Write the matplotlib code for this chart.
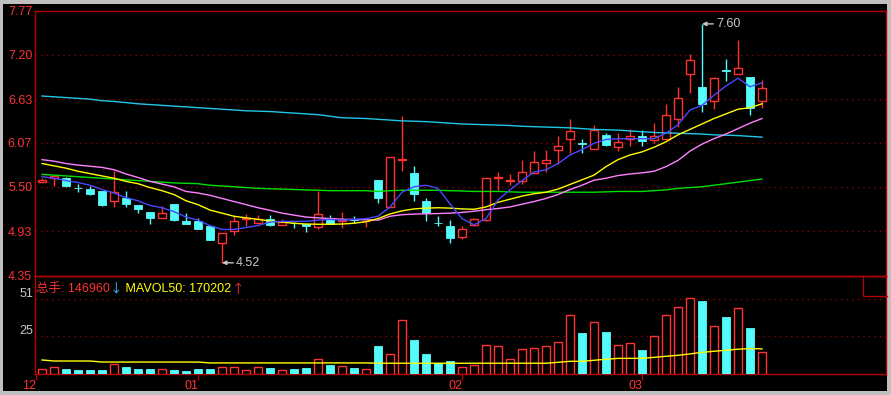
import matplotlib
matplotlib.use('Agg')
import matplotlib.pyplot as plt
from matplotlib.lines import Line2D
from matplotlib.patches import Rectangle
from matplotlib.transforms import offset_copy
import numpy as np

plt.rcParams['font.family'] = ['Liberation Sans', 'Noto Sans CJK SC', 'DejaVu Sans']

# ---------------- data ----------------
opens = [5.563, 5.615, 5.61, 5.49, 5.47, 5.447, 5.318, 5.36, 5.26, 5.17,
         5.10, 5.275, 5.06, 5.056, 4.995, 4.776, 4.927, 5.09, 5.034, 5.09,
         5.008, 5.035, 5.025, 4.98, 5.10, 5.065, 5.09, 5.055, 5.585, 5.24,
         5.845, 5.675, 5.318, 5.035, 5.0, 4.853, 5.013, 5.078, 5.61, 5.575,
         5.58, 5.68, 5.81, 5.98, 6.11, 6.065, 5.99, 6.166, 6.015, 6.115,
         6.16, 6.10, 6.118, 6.376, 6.96, 6.79, 6.61, 7.005, 6.95, 6.91, 6.60]
highs = [5.61, 5.64, 5.62, 5.53, 5.51, 5.45, 5.705, 5.44, 5.26, 5.175,
         5.25, 5.28, 5.16, 5.10, 4.995, 4.91, 5.12, 5.146, 5.14, 5.13,
         5.08, 5.05, 5.025, 5.44, 5.14, 5.18, 5.12, 5.065, 5.59, 5.88,
         6.41, 5.77, 5.36, 5.12, 5.07, 4.99, 5.10, 5.607, 5.69, 5.66,
         5.843, 5.96, 5.97, 6.15, 6.37, 6.11, 6.295, 6.195, 6.195, 6.25,
         6.23, 6.317, 6.565, 6.78, 7.215, 7.60, 6.92, 7.147, 7.39, 6.91, 6.875]
lows = [5.56, 5.51, 5.50, 5.43, 5.395, 5.25, 5.24, 5.24, 5.16, 5.017,
        5.10, 5.056, 5.017, 4.953, 4.82, 4.52, 4.88, 4.995, 5.034, 4.995,
        5.008, 4.97, 4.92, 4.956, 5.017, 4.97, 5.03, 4.98, 5.29, 5.24,
        5.70, 5.32, 5.065, 5.0, 4.776, 4.83, 5.0, 5.056, 5.455, 5.52,
        5.54, 5.68, 5.69, 5.80, 5.93, 5.94, 5.99, 6.02, 5.96, 6.03,
        6.02, 6.06, 6.118, 6.27, 6.71, 6.46, 6.50, 6.86, 6.95, 6.43, 6.52]
closes = [5.585, 5.637, 5.51, 5.485, 5.41, 5.26, 5.439, 5.275, 5.22, 5.095,
          5.16, 5.069, 5.017, 4.953, 4.82, 4.91, 5.056, 5.10, 5.09, 5.013,
          5.047, 5.03, 5.0, 5.155, 5.017, 5.075, 5.07, 5.062, 5.357, 5.88,
          5.855, 5.41, 5.163, 5.03, 4.84, 4.96, 5.09, 5.607, 5.62, 5.585,
          5.697, 5.817, 5.84, 6.02, 6.22, 6.055, 6.23, 6.045, 6.075, 6.16,
          6.09, 6.15, 6.43, 6.64, 7.13, 6.57, 6.90, 6.995, 7.03, 6.51, 6.77]

ma_blue = [5.63, 5.61, 5.58, 5.555, 5.52, 5.465, 5.42, 5.36, 5.32, 5.26,
           5.23, 5.18, 5.11, 5.07, 5.00, 4.95, 4.95, 4.975, 5.00, 5.045,
           5.055, 5.055, 5.055, 5.07, 5.08, 5.07, 5.08, 5.09, 5.12, 5.24,
           5.43, 5.50, 5.52, 5.48, 5.28, 5.09, 5.01, 5.09, 5.33, 5.46,
           5.58, 5.69, 5.72, 5.80, 5.91, 5.98, 6.06, 6.11, 6.12, 6.12,
           6.12, 6.12, 6.19, 6.30, 6.49, 6.55, 6.68, 6.80, 6.90, 6.79, 6.84]
ma_yellow = [5.80, 5.77, 5.74, 5.70, 5.67, 5.64, 5.61, 5.57, 5.54, 5.49,
             5.45, 5.40, 5.32, 5.27, 5.20, 5.16, 5.12, 5.10, 5.08, 5.06,
             5.045, 5.03, 5.02, 5.017, 5.017, 5.02, 5.03, 5.05, 5.09, 5.15,
             5.19, 5.215, 5.225, 5.23, 5.225, 5.215, 5.21, 5.24, 5.30, 5.34,
             5.38, 5.41, 5.43, 5.47, 5.53, 5.59, 5.65, 5.76, 5.85, 5.91,
             5.95, 6.01, 6.08, 6.17, 6.24, 6.31, 6.38, 6.44, 6.50, 6.52, 6.57]
ma_pink = [5.85, 5.83, 5.80, 5.78, 5.765, 5.75, 5.72, 5.665, 5.62, 5.57,
           5.535, 5.50, 5.44, 5.42, 5.39, 5.35, 5.31, 5.27, 5.23, 5.197,
           5.16, 5.135, 5.11, 5.10, 5.09, 5.082, 5.078, 5.075, 5.07, 5.12,
           5.14, 5.148, 5.152, 5.155, 5.16, 5.17, 5.185, 5.205, 5.22, 5.24,
           5.275, 5.31, 5.35, 5.40, 5.465, 5.52, 5.585, 5.61, 5.645, 5.665,
           5.68, 5.70, 5.76, 5.84, 5.96, 6.05, 6.12, 6.18, 6.25, 6.32, 6.38]
ma_green = [5.66, 5.65, 5.64, 5.63, 5.62, 5.61, 5.60, 5.59, 5.58, 5.57,
            5.56, 5.55, 5.545, 5.54, 5.52, 5.51, 5.50, 5.49, 5.48, 5.475,
            5.47, 5.465, 5.46, 5.455, 5.45, 5.45, 5.45, 5.45, 5.44, 5.45,
            5.455, 5.455, 5.455, 5.455, 5.45, 5.445, 5.44, 5.44, 5.44, 5.435,
            5.43, 5.43, 5.43, 5.43, 5.43, 5.43, 5.43, 5.435, 5.44, 5.44,
            5.44, 5.45, 5.46, 5.48, 5.49, 5.50, 5.52, 5.54, 5.56, 5.58, 5.60]
ma_cyan = [6.67, 6.66, 6.65, 6.64, 6.63, 6.61, 6.60, 6.585, 6.57, 6.56,
           6.55, 6.54, 6.53, 6.52, 6.51, 6.50, 6.49, 6.48, 6.475, 6.47,
           6.46, 6.45, 6.44, 6.43, 6.41, 6.39, 6.385, 6.38, 6.37, 6.36,
           6.35, 6.345, 6.34, 6.33, 6.32, 6.31, 6.305, 6.30, 6.295, 6.29,
           6.28, 6.275, 6.27, 6.265, 6.26, 6.25, 6.24, 6.235, 6.23, 6.22,
           6.21, 6.20, 6.195, 6.19, 6.185, 6.18, 6.17, 6.165, 6.16, 6.15, 6.14]

volume = [3.4, 4.5, 3.6, 2.9, 2.9, 2.9, 6.8, 5.0, 3.6, 3.6,
          3.4, 2.9, 2.3, 3.6, 3.6, 4.7, 4.7, 2.7, 4.5, 4.1,
          2.7, 3.6, 4.3, 10.0, 6.1, 5.2, 4.3, 3.4, 19.0, 13.3,
          36.6, 23.1, 13.6, 7.2, 8.8, 4.5, 5.9, 19.4, 18.8, 10.0,
          16.7, 17.4, 18.8, 21.7, 39.8, 27.8, 35.0, 28.5, 19.4, 21.0,
          16.3, 25.5, 39.8, 45.2, 51.3, 49.5, 32.3, 38.7, 44.5, 31.2, 14.696]
mavol50 = [9.5, 8.8, 8.8, 8.8, 8.8, 8.1, 8.1, 8.1, 8.1, 8.1,
           8.1, 8.1, 8.1, 8.1, 7.5, 7.5, 7.5, 7.5, 7.5, 7.5,
           7.5, 7.5, 7.5, 7.5, 7.5, 7.5, 7.5, 7.5, 7.3, 7.3,
           7.3, 7.3, 7.3, 7.3, 7.3, 7.3, 7.3, 7.3, 7.3, 7.3,
           7.3, 7.3, 7.3, 7.9, 8.6, 8.6, 9.3, 10.0, 10.6, 10.6,
           10.6, 11.3, 12.0, 12.7, 13.6, 14.7, 15.4, 16.1, 16.8, 17.2, 17.02]

price_ticks = [7.77, 7.20, 6.63, 6.07, 5.50, 4.93, 4.35]
price_grid = [7.20, 6.63, 6.07, 5.50, 4.93]
vol_grid = [25.5, 51.0]
vol_labels = ['25', '51']
month_pos = [-0.5, 13, 35, 50]
month_labels = ['12', '01', '02', '03']
total_hand = 146960
mavol_last = 170202

# ---------------- style ----------------
RED = '#ff3232'
CYAN = '#54fcfc'
FRAME = '#b40000'
GRID = '#8c0000'
GREY_TXT = '#c8c8c8'

W, H = 891, 395
fig = plt.figure(figsize=(W / 100, H / 100), dpi=100, facecolor='#c0c0c0')
fig.patches.append(Rectangle((3 / W, 1 - 391 / H), 884 / W, 387 / H,
                             transform=fig.transFigure, facecolor='black',
                             edgecolor='none', zorder=-10))


def fx(px):
    return px / W


def fy(py):
    return 1 - py / H


L, R = 35, 886
TOP, MID, BOT = 10.7, 276, 374
ax = fig.add_axes([fx(L), fy(MID), fx(R) - fx(L), fy(TOP) - fy(MID)])
axv = fig.add_axes([fx(L), fy(BOT), fx(R) - fx(L), fy(MID) - fy(BOT)])

n = len(closes)
x = np.arange(n)
o = np.array(opens); c = np.array(closes); h = np.array(highs); lo = np.array(lows)
up = c >= o

xl = ((L - 42) / 12, (R - 42) / 12)
for a in (ax, axv):
    a.set_facecolor('none')
    a.set_xlim(*xl)
    for s in a.spines.values():
        s.set_color(FRAME)
        s.set_linewidth(1)
ax.set_ylim(4.35, 7.77)
axv.set_ylim(0, 66.4)

# grid
for g in price_grid:
    ax.axhline(g, color=GRID, lw=1, ls=(0, (1, 3)), zorder=1)
for g in vol_grid:
    axv.axhline(g, color=GRID, lw=1, ls=(0, (1, 3)), zorder=1)

# candles
bw = 0.70
for i in range(n):
    top_b, bot_b = max(o[i], c[i]), min(o[i], c[i])
    hgt = max(top_b - bot_b, 0.004)
    if up[i]:
        ax.vlines(x[i], top_b, h[i], color=RED, lw=1, zorder=3)
        ax.vlines(x[i], lo[i], bot_b, color=RED, lw=1, zorder=3)
        ax.bar(x[i], hgt, bw, bottom=bot_b, facecolor='black', edgecolor=RED, lw=1, zorder=3)
    else:
        ax.vlines(x[i], lo[i], h[i], color=CYAN, lw=1, zorder=3)
        ax.bar(x[i], hgt, bw, bottom=bot_b, facecolor=CYAN, edgecolor=CYAN, lw=0.6, zorder=3)

# moving averages
ax.plot(x, ma_cyan, color='#20c8e8', lw=1, zorder=4)
ax.plot(x, ma_green, color='#00e000', lw=1, zorder=4)
ax.plot(x, ma_pink, color='#ff80ff', lw=1, zorder=4)
ax.plot(x, ma_yellow, color='#ffff00', lw=1, zorder=4)
ax.plot(x, ma_blue, color='#4848ff', lw=1, zorder=4)

# volume
for i in range(n):
    if up[i]:
        axv.bar(x[i], volume[i], bw, facecolor='black', edgecolor=RED, lw=1, zorder=3)
    else:
        axv.bar(x[i], volume[i], bw, facecolor=CYAN, edgecolor=CYAN, lw=0.6, zorder=3)
axv.plot(x, mavol50, color='#ffff00', lw=1, zorder=4)

# axes ticks
ax.set_xticks([])
ax.set_yticks(price_ticks)
ax.set_yticklabels([f'{v:.2f}' for v in price_ticks])
ax.tick_params(axis='y', length=0, pad=2, labelcolor=RED, labelsize=9)
axv.set_yticks([])
vt = offset_copy(axv.get_yaxis_transform(), fig=fig, x=-2, y=-1, units='dots')
for v, lab in zip(vol_grid, vol_labels):
    axv.text(0, v, lab, transform=vt, ha='right', va='bottom', color=GREY_TXT, fontsize=9)
axv.set_xticks(month_pos)
axv.set_xticklabels(month_labels, ha='right')
axv.tick_params(axis='x', length=4, width=1, color=FRAME, pad=0.5, labelcolor=RED, labelsize=9)

# annotations of extreme prices
imin = int(np.argmin(lo))
imax = int(np.argmax(h))
arrow = dict(arrowstyle='-|>', color=GREY_TXT, lw=1, shrinkA=0, shrinkB=0, mutation_scale=6)
ax.annotate(f'{lo[imin]:.2f}', xy=(imin, lo[imin]), xytext=(14, 0), textcoords='offset pixels',
            ha='left', va='center', color=GREY_TXT, fontsize=9, arrowprops=arrow, zorder=6)
ax.annotate(f'{h[imax]:.2f}', xy=(imax, h[imax]), xytext=(14, 0), textcoords='offset pixels',
            ha='left', va='center', color=GREY_TXT, fontsize=9, arrowprops=arrow, zorder=6)

# volume legend
r = fig.canvas.get_renderer()
xpos = 36
for s, col, fam in [(f'总手: {total_hand}', RED, None), ('↓', '#40c8ff', 'Noto Sans CJK SC'),
                    (f' MAVOL50: {mavol_last}', '#ffff00', None), ('↑', RED, 'Noto Sans CJK SC')]:
    kw = {} if fam is None else {'family': [fam, 'DejaVu Sans']}
    t = fig.text(fx(xpos), fy(289), s, color=col, ha='left', va='center', fontsize=9, **kw)
    xpos += t.get_window_extent(renderer=r).width

# little box at top-right of volume panel
fig.lines.append(Line2D([fx(863), fx(863), fx(887)], [fy(277), fy(296), fy(296)],
                        transform=fig.transFigure, color=FRAME, lw=1))

fig.savefig('out.png', dpi=100, facecolor=fig.get_facecolor())
